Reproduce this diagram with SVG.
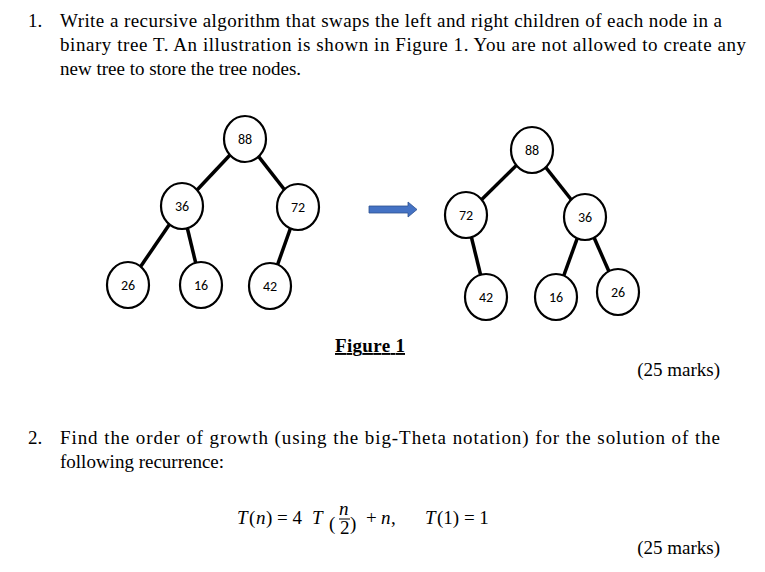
<svg xmlns="http://www.w3.org/2000/svg" width="765" height="572" viewBox="0 0 765 572">
<style>
.t{font-family:"Liberation Serif",serif;font-size:19px;fill:#000}
.n ellipse{fill:#fff;stroke:#000;stroke-width:2.2}
.n text{font-family:Carlito,Calibri,"Liberation Sans",sans-serif;font-size:14px;text-anchor:middle;fill:#000}
.e line{stroke:#000;stroke-width:3.5}
.m{font-family:"Liberation Serif",serif;font-size:19px;font-style:italic}
.r{font-family:"Liberation Serif",serif;font-size:19px}
</style>
<rect width="765" height="572" fill="#fff"/>
<text class="t" x="28" y="27">1.</text>
<text class="t" x="60" y="27" textLength="662">Write a recursive algorithm that swaps the left and right children of each node in a</text>
<text class="t" x="60" y="51" textLength="686">binary tree T.  An illustration is shown in Figure 1.  You are not allowed to create any</text>
<text class="t" x="60" y="75">new tree to store the tree nodes.</text>
<g class="e" id="connectors">
<line x1="245" y1="139" x2="182" y2="206"/><line x1="245" y1="139" x2="298" y2="207"/>
<line x1="182" y1="206" x2="128" y2="285"/><line x1="182" y1="206" x2="201" y2="285"/>
<line x1="298" y1="207" x2="270" y2="286"/>
<line x1="532" y1="150" x2="466" y2="215"/><line x1="532" y1="150" x2="585" y2="217"/>
<line x1="466" y1="215" x2="486" y2="297"/>
<line x1="585" y1="217" x2="556" y2="297"/><line x1="585" y1="217" x2="618" y2="292"/>
</g>
<g class="n" id="a88"><ellipse cx="245" cy="139" rx="21" ry="23"/><text x="245" y="144">88</text></g>
<g class="n" id="a36"><ellipse cx="182" cy="206" rx="21" ry="23"/><text x="182" y="211">36</text></g>
<g class="n" id="a72"><ellipse cx="298" cy="207" rx="21" ry="23"/><text x="298" y="212">72</text></g>
<g class="n" id="a26"><ellipse cx="128" cy="285" rx="21" ry="23"/><text x="128" y="290">26</text></g>
<g class="n" id="a16"><ellipse cx="201" cy="285" rx="21" ry="23"/><text x="201" y="290">16</text></g>
<g class="n" id="a42"><ellipse cx="270" cy="286" rx="21" ry="23"/><text x="270" y="291">42</text></g>
<g class="n" id="b88"><ellipse cx="532" cy="150" rx="21" ry="23"/><text x="532" y="155">88</text></g>
<g class="n" id="b72"><ellipse cx="466" cy="215" rx="21" ry="23"/><text x="466" y="220">72</text></g>
<g class="n" id="b36"><ellipse cx="585" cy="217" rx="21" ry="23"/><text x="585" y="222">36</text></g>
<g class="n" id="b42"><ellipse cx="486" cy="297" rx="21" ry="23"/><text x="486" y="302">42</text></g>
<g class="n" id="b16"><ellipse cx="556" cy="297" rx="21" ry="23"/><text x="556" y="302">16</text></g>
<g class="n" id="b26"><ellipse cx="618" cy="292" rx="21" ry="23"/><text x="618" y="297">26</text></g>
<polygon points="369,206 408,206 408,202 417,209.5 408,217 408,213 369,213" fill="#4472C4" stroke="#2F528F" stroke-width="0.8"/>
<text class="t" x="335" y="352" font-weight="bold" text-decoration="underline" textLength="70">Figure 1</text>
<text class="t" x="720" y="376" text-anchor="end">(25 marks)</text>
<text class="t" x="28" y="444">2.</text>
<text class="t" x="60" y="444" textLength="660">Find the order of growth (using the big-Theta notation) for the solution of the</text>
<text class="t" x="60" y="468">following recurrence:</text>
<g id="formula">
<text class="m" x="237" y="524">T</text>
<text class="r" x="249" y="524">(</text>
<text class="m" x="256" y="524">n</text>
<text class="r" x="266" y="524">) = 4</text>
<text class="m" x="312" y="524">T</text>
<text class="r" x="329" y="530" font-size="30">(</text>
<text class="m" x="339" y="515" font-size="16">n</text>
<line x1="339" y1="519" x2="350" y2="519" stroke="#000" stroke-width="1"/>
<text class="r" x="340" y="534" font-size="16">2</text>
<text class="r" x="350" y="530" font-size="30">)</text>
<text class="r" x="366" y="524">+</text>
<text class="m" x="381" y="524">n</text>
<text class="r" x="391" y="524">,</text>
<text class="m" x="425" y="524">T</text>
<text class="r" x="437" y="524">(1) = 1</text>
</g>
<text class="t" x="720" y="554" text-anchor="end">(25 marks)</text>
</svg>
